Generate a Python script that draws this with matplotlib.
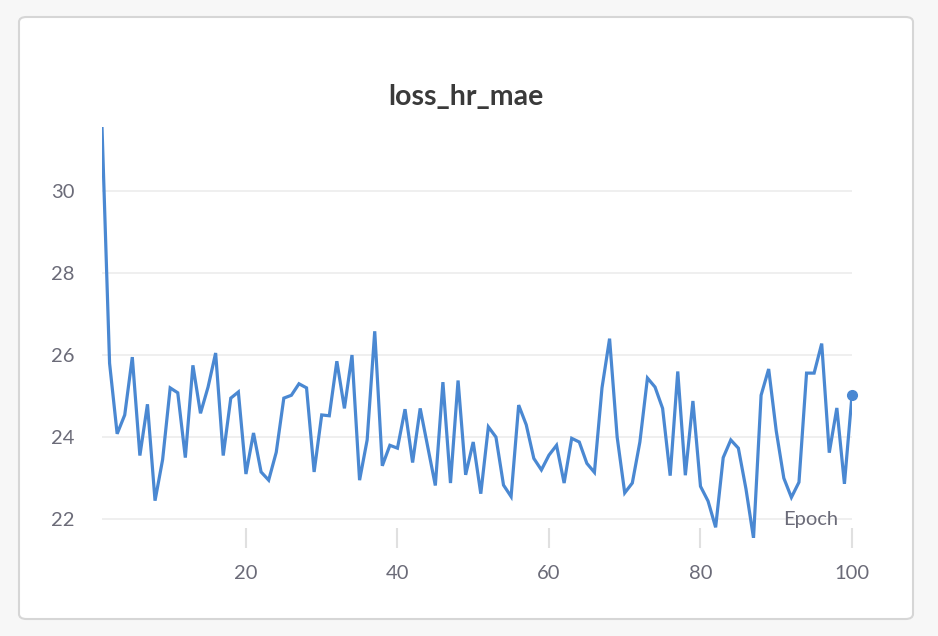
import matplotlib
matplotlib.use("Agg")

import matplotlib.pyplot as plt
from matplotlib.patches import FancyBboxPatch

plt.rcParams['font.family'] = ['Lato', 'DejaVu Sans']

epochs = list(range(1, 101))
loss_hr_mae = [
    31.56, 25.80, 24.08, 24.54, 25.95, 23.55, 24.80, 22.45, 23.45, 25.20,
    25.08, 23.50, 25.75, 24.58, 25.22, 26.05, 23.55, 24.95, 25.10, 23.10,
    24.10, 23.15, 22.95, 23.63, 24.95, 25.02, 25.30, 25.20, 23.15, 24.54,
    24.52, 25.85, 24.70, 26.00, 22.95, 23.93, 26.58, 23.30, 23.80, 23.73,
    24.68, 23.38, 24.70, 23.76, 22.82, 25.34, 22.88, 25.38, 23.08, 23.88,
    22.62, 24.25, 24.00, 22.83, 22.55, 24.78, 24.30, 23.48, 23.20, 23.56,
    23.80, 22.88, 23.97, 23.88, 23.36, 23.14, 25.20, 26.40, 24.00, 22.64,
    22.88, 23.88, 25.44, 25.22, 24.70, 23.06, 25.60, 23.07, 24.88, 22.80,
    22.44, 21.80, 23.50, 23.93, 23.73, 22.74, 21.54, 25.02, 25.66, 24.15,
    23.00, 22.53, 22.90, 25.56, 25.56, 26.28, 23.62, 24.71, 22.86, 25.02,
]
y_ticks = [22, 24, 26, 28, 30]
x_ticks = [20, 40, 60, 80, 100]

W, H = 938, 636
fig = plt.figure(figsize=(W / 100, H / 100), dpi=100)
fig.patch.set_facecolor('#f7f7f7')

# white card with rounded border, kept behind the axes
card = FancyBboxPatch((19 / W, 17 / H), 894 / W, 602 / H,
                      boxstyle="round,pad=0,rounding_size=0.008",
                      transform=fig.transFigure, facecolor='white',
                      edgecolor='#d6d6d6', linewidth=1.5, zorder=-10)
fig.patches.append(card)

ax = fig.add_axes([102 / W, 1 - 538 / H, 750 / W, 411 / H])
ax.set_zorder(5)
ax.set_facecolor('none')
ax.plot(epochs, loss_hr_mae, color='#4a88d2', linewidth=2.3, solid_joinstyle='miter')
ax.plot(epochs[-1], loss_hr_mae[-1], 'o', color='#4a88d2', markersize=7, clip_on=False)

ax.set_xlim(epochs[0], epochs[-1])
ax.set_ylim(min(loss_hr_mae), max(loss_hr_mae))
ax.set_yticks(y_ticks)
ax.set_xticks(x_ticks)
ax.grid(axis='y', color='#ececec', linewidth=1.2)
ax.set_axisbelow(True)
for s in ax.spines.values():
    s.set_visible(False)

ax.tick_params(axis='y', length=0, pad=20, labelsize=14.5, labelcolor='#6b6b78')
ax.tick_params(axis='x', direction='inout', length=15, width=1.5, color='#e0e0e0',
               pad=12, labelsize=14.5, labelcolor='#6b6b78')

fig.text(466 / W, 1 - 97 / H, 'loss_hr_mae', ha='center', va='center',
         fontsize=20.5, fontweight='bold', color='#3a3a3a', zorder=6)
fig.text(838 / W, 1 - 520 / H, 'Epoch', ha='right', va='center',
         fontsize=14.5, color='#6b6b78', zorder=6)

fig.savefig('out.png', dpi=100)
